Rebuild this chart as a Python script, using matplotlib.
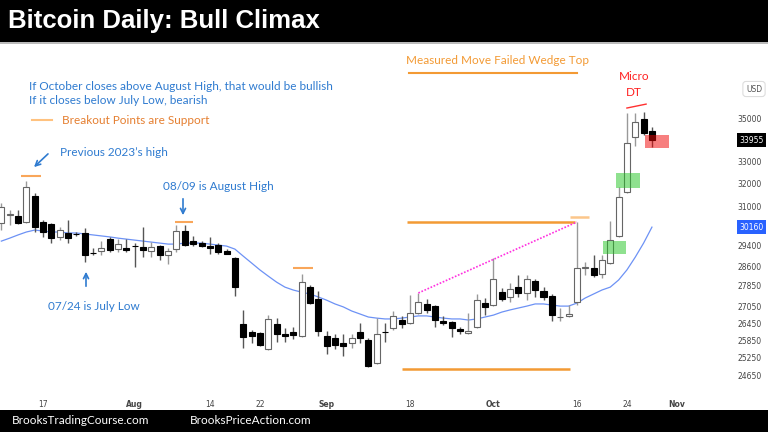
import matplotlib
matplotlib.use("Agg")
import matplotlib.pyplot as plt
import matplotlib.transforms as mtransforms
from matplotlib.patches import Rectangle
import numpy as np
import pandas as pd

# CME Bitcoin futures, daily bars 10 Jul - 27 Oct 2023 (Labor Day has no bar)
opens = [30330, 30660, 30620, 30370, 31470, 30370, 30290, 29760, 29920, 29880,
         29920, 29110, 29190, 29670, 29270, 29310, 29390, 29350, 29190, 29390,
         29030, 29270, 30000, 29590, 29510, 29390, 29430, 29190, 28920, 26430,
         26140, 26100, 25540, 26430, 26070, 26140, 26000, 27790, 27340, 26000,
         25930, 25750, 25750, 26140, 25860, 25060, 26140, 26280, 26570, 26460,
         26830, 27160, 27080, 26530, 26500, 26250, 26100, 26320, 27190, 27120,
         27600, 27420, 27790, 27570, 28020, 27640, 27450, 26680, 26720, 27230,
         28520, 28520, 28290, 28720, 29800, 31640, 34100, 34950, 34390]
highs = [31170, 30870, 30870, 32120, 31600, 30450, 30330, 30160, 30450, 29960,
         30120, 29310, 29590, 29760, 29670, 29670, 29510, 30160, 29550, 29430,
         29310, 30250, 30250, 29800, 29590, 29760, 29510, 29270, 28950, 26940,
         26210, 26140, 26750, 26640, 26280, 26320, 28290, 27870, 27640, 26170,
         26070, 26070, 26070, 26460, 25930, 26640, 26460, 26900, 26720, 27490,
         27570, 27340, 27120, 26720, 26530, 26320, 26830, 27530, 27380, 28920,
         27760, 27950, 28250, 28250, 28100, 27790, 27530, 27010, 27120, 30370,
         28760, 29030, 29030, 30410, 31860, 35240, 35240, 35290, 34570]
lows = [30040, 30250, 30290, 30330, 29960, 29760, 29510, 29630, 29510, 29800,
        28760, 29030, 29030, 29150, 29150, 29150, 28560, 28950, 28950, 28840,
        28680, 29150, 29390, 29390, 29350, 29070, 29070, 29070, 27450, 25580,
        25750, 25650, 25510, 25790, 25790, 25890, 25960, 27160, 26000, 25370,
        25540, 25300, 25580, 25750, 24920, 25030, 25790, 26210, 26280, 26430,
        26790, 26830, 26320, 26390, 25960, 26070, 26070, 26280, 26750, 27080,
        27270, 27230, 27420, 27300, 27420, 27300, 26530, 26530, 26680, 27120,
        28250, 28180, 28140, 28680, 29760, 31600, 33690, 34200, 33640]
closes = [31000, 30700, 30330, 31860, 30160, 29960, 29710, 30040, 29710, 29870,
          29030, 29100, 29310, 29230, 29470, 29230, 29380, 29230, 29350, 29030,
          29190, 30000, 29430, 29470, 29390, 29310, 29150, 29070, 27790, 25960,
          26000, 25680, 26610, 26070, 26000, 26030, 27980, 27190, 26170, 25650,
          25680, 25650, 25930, 25930, 24960, 26070, 26130, 26720, 26430, 26830,
          27230, 26940, 26570, 26460, 26280, 26170, 26170, 27300, 27050, 28100,
          27340, 27720, 27570, 28100, 27680, 27420, 26750, 26690, 26790, 28520,
          28560, 28250, 28840, 29630, 31420, 33830, 34810, 34290, 33955]
ema20 = [29590, 29710, 29840, 29960, 30040, 30000, 29960, 29960, 29920, 29920,
         29880, 29840, 29800, 29760, 29710, 29670, 29630, 29590, 29550, 29510,
         29470, 29470, 29510, 29510, 29510, 29470, 29430, 29390, 29270, 28990,
         28720, 28450, 28210, 27980, 27790, 27680, 27600, 27530, 27420, 27300,
         27160, 27050, 26900, 26790, 26680, 26640, 26610, 26610, 26640, 26680,
         26720, 26720, 26680, 26640, 26610, 26610, 26570, 26610, 26680, 26750,
         26860, 26940, 27010, 27080, 27160, 27160, 27120, 27080, 27080, 27190,
         27380, 27530, 27680, 27790, 28060, 28450, 28950, 29510, 30160]

tick_dates = ["2023-07-17", "2023-08-01", "2023-08-14", "2023-08-22", "2023-09-01",
              "2023-09-18", "2023-10-02", "2023-10-16", "2023-10-24", "2023-11-01"]
tick_labels = ["17", "Aug", "14", "22", "Sep", "18", "Oct", "16", "24", "Nov"]
price_ticks = [35000, 33000, 32000, 31000, 29400, 28600, 27850, 27050,
               26450, 25850, 25250, 24650]
last_price = 33955
ema_last = 30160

days = pd.bdate_range("2023-07-10", "2023-11-10")
days = days[days != pd.Timestamp("2023-09-04")]
x = np.arange(len(opens))
tick_pos = [days.get_loc(pd.Timestamp(d)) for d in tick_dates]

W, H = 768, 432
BLUE = "#2f7bd0"
ORANGE = "#f39a34"
TXT = ["Lato", "DejaVu Sans"]

fig = plt.figure(figsize=(W / 100, H / 100), dpi=100)
fig.patch.set_facecolor("white")


def fx(px):
    return px / W


def fy(py):
    return 1 - py / H


ax = fig.add_axes([0, fy(396), fx(722), (396 - 45) / H])
ax.set_yscale("log")
ax.set_ylim(23955, 38665)
ax.set_xlim(-0.16, 86.4)
for s in ax.spines.values():
    s.set_visible(False)

# 20 bar EMA
ax.plot(x, ema20, color="#6d92f5", lw=0.9, zorder=1)

# candles
o = np.array(opens)
c = np.array(closes)
up = c >= o
bottom = np.minimum(o, c)
height = np.maximum(np.abs(c - o), 8)
ax.vlines(x[up], np.array(lows)[up], np.array(highs)[up], color="#999999", lw=1, zorder=2)
ax.vlines(x[~up], np.array(lows)[~up], np.array(highs)[~up], color="#555555", lw=1, zorder=2)
ax.bar(x[up], height[up], bottom=bottom[up], width=0.72, color="white",
       edgecolor="#666666", lw=0.8, zorder=3)
ax.bar(x[~up], height[~up], bottom=bottom[~up], width=0.72, color="black",
       edgecolor="black", lw=0.8, zorder=3)

# axes ticks
ax.yaxis.tick_right()
ax.set_yticks(price_ticks)
ax.set_yticklabels([str(p) for p in price_ticks])
ax.yaxis.set_minor_locator(matplotlib.ticker.NullLocator())
ax.tick_params(axis="y", length=0, pad=11, labelsize=5.5, labelcolor="#444444")
ax.set_xticks(tick_pos)
ax.set_xticklabels(tick_labels)
ax.tick_params(axis="x", length=0, pad=3, labelsize=5.5, labelcolor="#444444")
for t in ax.get_xticklabels():
    if t.get_text() in ("Aug", "Sep", "Oct", "Nov"):
        t.set_fontweight("bold")

trans = mtransforms.blended_transform_factory(ax.transAxes, ax.transData)
ax.text(1.024, last_price, str(last_price), transform=trans, fontsize=5.5, color="white",
        va="center", ha="left", bbox=dict(boxstyle="square,pad=0.3", fc="black", ec="none"))
ax.text(1.024, ema_last, str(ema_last), transform=trans, fontsize=5.5, color="white",
        va="center", ha="left", bbox=dict(boxstyle="square,pad=0.3", fc="#2962ff", ec="none"))
fig.text(fx(754), fy(89), "USD", fontsize=5.5, color="#555555", ha="center", va="center",
         bbox=dict(boxstyle="round,pad=0.4", fc="white", ec="#dddddd", lw=0.8))

# support / breakout lines
ax.hlines(32340, 2.35, 4.75, color="#f9a65a", lw=1.5, zorder=4)
ax.hlines(30370, 20.8, 23.0, color="#f9a65a", lw=1.5, zorder=4)
ax.hlines(28520, 35.0, 37.4, color="#f9a65a", lw=1.5, zorder=4)
ax.hlines(30370, 48.6, 68.8, color=ORANGE, lw=1.8, zorder=4)
ax.hlines(30580, 68.2, 70.5, color="#fcc68a", lw=1.8, zorder=4)
ax.hlines(24850, 48.0, 68.2, color=ORANGE, lw=1.8, zorder=4)

# wedge line
ax.plot([x[50], x[69]], [highs[50], highs[69]], color="#ff2fe0", lw=1.2, ls=(0, (1, 1)), zorder=4)

# boxes
ax.add_patch(Rectangle((72.1, 29070), 2.8, 29590 - 29070, fc="#21c521", alpha=0.5, ec="none", zorder=5))
ax.add_patch(Rectangle((73.7, 31810), 2.9, 32470 - 31810, fc="#21c521", alpha=0.5, ec="none", zorder=5))
ax.add_patch(Rectangle((77.2, 33600), 2.8, 34200 - 33600, fc="#f00000", alpha=0.5, ec="none", zorder=5))
ax.plot([75.0, 77.3], [35480, 35670], color="#ff3030", lw=1, zorder=5)

# title and footer bars
fig.patches.append(Rectangle((0, fy(42)), 1, 42 / H, transform=fig.transFigure,
                             fc="black", ec="none", zorder=0))
fig.patches.append(Rectangle((0, fy(44)), 1, 2 / H, transform=fig.transFigure,
                             fc="#bbbbbb", ec="none", zorder=0))
fig.patches.append(Rectangle((0, 0), 1, 22 / H, transform=fig.transFigure,
                             fc="black", ec="none", zorder=0))
fig.text(fx(8), fy(21), "Bitcoin Daily: Bull Climax", family="Liberation Sans",
         fontweight="bold", fontsize=18.5, color="white", va="center")
fig.text(fx(12), fy(421), "BrooksTradingCourse.com", family=TXT, fontsize=8.5,
         color="white", va="center")
fig.text(fx(190), fy(421), "BrooksPriceAction.com", family=TXT, fontsize=8.5,
         color="white", va="center")

# notes
fig.text(fx(29), fy(86), "If October closes above August High, that would be bullish",
         family=TXT, fontsize=8.5, color=BLUE, va="center")
fig.text(fx(29), fy(101), "If it closes below July Low, bearish",
         family=TXT, fontsize=8.5, color=BLUE, va="center")
fig.lines.append(plt.Line2D([fx(32), fx(52)], [fy(120), fy(120)], transform=fig.transFigure,
                            color="#ffc27f", lw=1.5))
fig.text(fx(62), fy(120), "Breakout Points are Support", family=TXT, fontsize=8.5,
         color="#e57f30", va="center")
fig.text(fx(60), fy(152), "Previous 2023\u2019s high", family=TXT, fontsize=8.5,
         color=BLUE, va="center")
fig.text(fx(163), fy(187), "08/09 is August High", family=TXT, fontsize=8.5,
         color=BLUE, va="center")
fig.text(fx(48), fy(306), "07/24 is July Low", family=TXT, fontsize=8.5,
         color=BLUE, va="center")
fig.text(fx(406), fy(61), "Measured Move Failed Wedge Top", family=TXT, fontsize=8.5,
         color=ORANGE, va="center")
fig.lines.append(plt.Line2D([fx(409), fx(577)], [fy(73), fy(73)], transform=fig.transFigure,
                            color=ORANGE, lw=1.5))
fig.text(fx(634), fy(77), "Micro", family=TXT, fontsize=8.5, color="#ff2020",
         va="center", ha="center")
fig.text(fx(634), fy(92), "DT", family=TXT, fontsize=8.5, color="#ff2020",
         va="center", ha="center")

arrow = dict(arrowstyle="->", color=BLUE, lw=1.2, mutation_scale=9)
for (x1, y1, x2, y2) in [(50, 152, 32, 169), (183, 196, 183, 218), (86, 289, 86, 269)]:
    ax.annotate("", xy=(x2, H - y2), xytext=(x1, H - y1), xycoords="figure pixels",
                textcoords="figure pixels", arrowprops=arrow, annotation_clip=False)

fig.savefig("out.png", dpi=100)
